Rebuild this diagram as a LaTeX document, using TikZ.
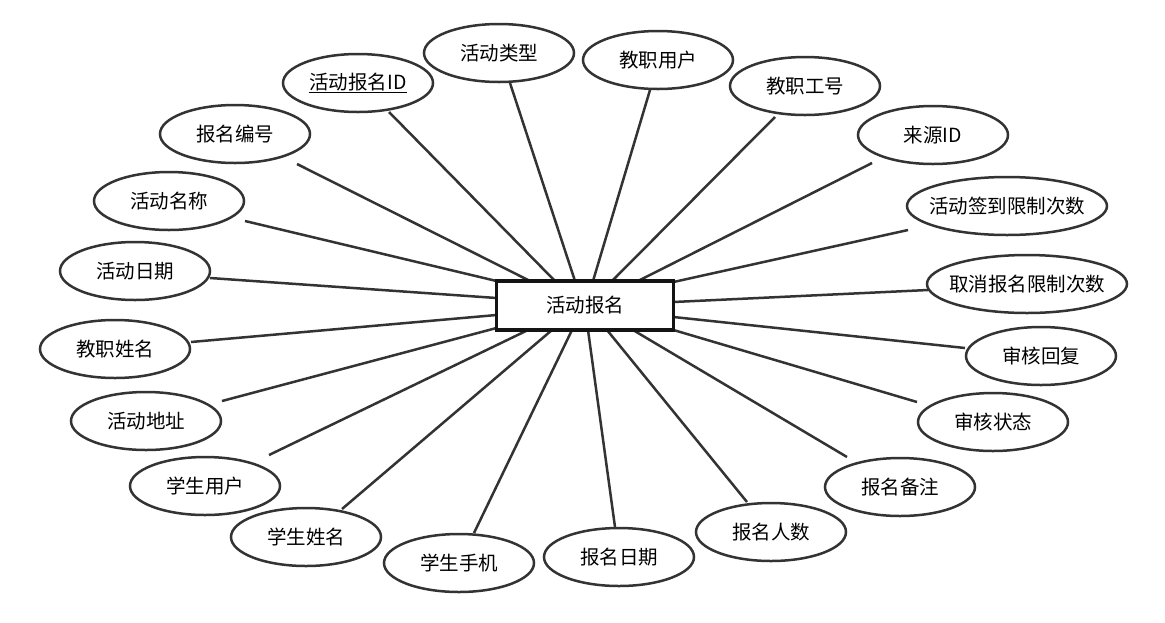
\documentclass[tikz,border=0pt]{standalone}
\usepackage{fontspec}
\setmainfont{Noto Sans CJK SC}
\usetikzlibrary{shapes.geometric,calc,backgrounds}
\definecolor{linegray}{HTML}{333333}
\begin{document}
\begin{tikzpicture}[x=1pt,y=-1pt,
  attr/.style={ellipse,draw=linegray,line width=2.5pt,fill=white,minimum width=150pt,minimum height=58pt,inner sep=0pt,font=\fontsize{19.5}{22}\selectfont},
  wattr/.style={attr,minimum width=200pt,inner xsep=-10pt},
  entity/.style={rectangle,draw=black!92,line width=3.5pt,fill=white,minimum width=177pt,minimum height=49pt,inner sep=0pt,font=\fontsize{19.5}{22}\selectfont},
  conn/.style={draw=linegray,line width=2.5pt}]
\useasboundingbox (0,0) rectangle (1165,622);

\node[entity] (r) at (585,305.5) {活动报名};

\node[attr] (a1) at (358,83) {\underline{活动报名ID}};
\node[attr] (a2) at (499,53) {活动类型};
\node[attr] (a3) at (658,60) {教职用户};
\node[attr] (a4) at (805,86) {教职工号};
\node[attr] (a5) at (933,135) {来源ID};
\node[wattr] (a6) at (1007,206) {活动签到限制次数};
\node[wattr] (a7) at (1027,284) {取消报名限制次数};
\node[attr] (a8) at (1041,356) {审核回复};
\node[attr] (a9) at (993,422) {审核状态};
\node[attr] (a10) at (900,487) {报名备注};
\node[attr] (a11) at (771,532) {报名人数};
\node[attr] (a12) at (619,557) {报名日期};
\node[attr] (a13) at (459,563) {学生手机};
\node[attr] (a14) at (306,537) {学生姓名};
\node[attr] (a15) at (205,486) {学生用户};
\node[attr] (a16) at (146,421) {活动地址};
\node[attr] (a17) at (115,349) {教职姓名};
\node[attr] (a18) at (135,271) {活动日期};
\node[attr] (a19) at (169,201) {活动名称};
\node[attr] (a20) at (235,134) {报名编号};

\begin{pgfonlayer}{background}
\fill[white] (0,0) rectangle (1165,622);
\draw[conn] ($(a1)+(31,29)$) -- ($(r)+(-30,-24.5)$);
\draw[conn] ($(a2)+(11,30)$) -- ($(r)+(-10,-24.5)$);
\draw[conn] ($(a3)+(-8,30)$) -- ($(r)+(8,-24.5)$);
\draw[conn] ($(a4)+(-30,31)$) -- ($(r)+(27,-24.5)$);
\draw[conn] ($(a5)+(-61,28)$) -- ($(r)+(53,-24.5)$);
\draw[conn] ($(a6)+(-99,24)$) -- ($(r)+(88.5,-23.5)$);
\draw[conn] ($(a7)+(-99,6)$) -- ($(r)+(88.5,-3.5)$);
\draw[conn] ($(a8)+(-76,-8)$) -- ($(r)+(88.5,11.5)$);
\draw[conn] ($(a9)+(-76,-20)$) -- ($(r)+(88.5,24.5)$);
\draw[conn] ($(a10)+(-53,-30)$) -- ($(r)+(48,24.5)$);
\draw[conn] ($(a11)+(-24,-30)$) -- ($(r)+(22,24.5)$);
\draw[conn] ($(a12)+(-4,-30)$) -- ($(r)+(3,24.5)$);
\draw[conn] ($(a13)+(15,-30)$) -- ($(r)+(-13,24.5)$);
\draw[conn] ($(a14)+(36,-28)$) -- ($(r)+(-33,24.5)$);
\draw[conn] ($(a15)+(64,-31)$) -- ($(r)+(-57,24.5)$);
\draw[conn] ($(a16)+(76,-20)$) -- ($(r)+(-88.5,22.5)$);
\draw[conn] ($(a17)+(76,-7)$) -- ($(r)+(-88.5,9.5)$);
\draw[conn] ($(a18)+(75,7)$) -- ($(r)+(-88.5,-7.5)$);
\draw[conn] ($(a19)+(76,20)$) -- ($(r)+(-88.5,-24.5)$);
\draw[conn] ($(a20)+(62,30)$) -- ($(r)+(-55,-24.5)$);
\end{pgfonlayer}
\end{tikzpicture}
\end{document}
